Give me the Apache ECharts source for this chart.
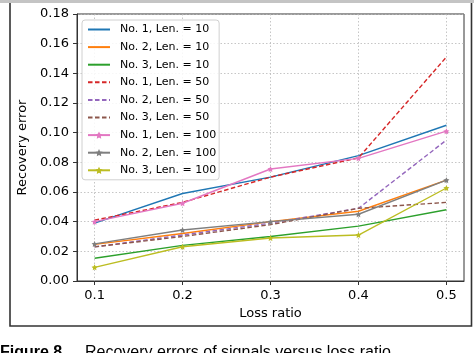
<!DOCTYPE html>
<html>
<head>
<meta charset="utf-8">
<script src="https://cdn.jsdelivr.net/npm/echarts@6/dist/echarts.min.js"></script>
<style>
  html, body { margin: 0; padding: 0; background: #fff; }
  #chart { width: 474px; height: 353px; }
</style>
</head>
<body>
<div id="chart"></div>
<script>
// loss ratios on the x axis
const lossRatios = [0.1, 0.2, 0.3, 0.4, 0.5];

// recovery error
const no1Len10 = [0.039, 0.059, 0.070, 0.0845, 0.105];
const no2Len10 = [0.0247, 0.032, 0.040, 0.047, 0.068];
const no3Len10 = [0.0153, 0.024, 0.030, 0.037, 0.048];
const no1Len50 = [0.041, 0.053, 0.070, 0.083, 0.151];
const no2Len50 = [0.023, 0.031, 0.039, 0.049, 0.095];
const no3Len50 = [0.023, 0.030, 0.038, 0.049, 0.053];
const no1Len100 = [0.040, 0.0524, 0.0755, 0.0827, 0.101];
const no2Len100 = [0.025, 0.0344, 0.040, 0.045, 0.068];
const no3Len100 = [0.0092, 0.0231, 0.029, 0.031, 0.0627];

const seriesDefs = [
    { name: 'No. 1, Len. = 10', data: no1Len10, color: '#1f77b4', type: 'solid', star: false },
    { name: 'No. 2, Len. = 10', data: no2Len10, color: '#ff7f0e', type: 'solid', star: false },
    { name: 'No. 3, Len. = 10', data: no3Len10, color: '#2ca02c', type: 'solid', star: false },
    { name: 'No. 1, Len. = 50', data: no1Len50, color: '#d62728', type: 'dashed', star: false },
    { name: 'No. 2, Len. = 50', data: no2Len50, color: '#9467bd', type: 'dashed', star: false },
    { name: 'No. 3, Len. = 50', data: no3Len50, color: '#8c564b', type: 'dashed', star: false },
    { name: 'No. 1, Len. = 100', data: no1Len100, color: '#e377c2', type: 'solid', star: true },
    { name: 'No. 2, Len. = 100', data: no2Len100, color: '#7f7f7f', type: 'solid', star: true },
    { name: 'No. 3, Len. = 100', data: no3Len100, color: '#bcbd22', type: 'solid', star: true }
];

const starPath = 'path://M0,-10L2.94,-4.05L9.51,-3.09L4.76,1.55L5.88,8.09L0,5L-5.88,8.09L-4.76,1.55L-9.51,-3.09L-2.94,-4.05Z';

var myChart = echarts.init(document.getElementById('chart'), null, { renderer: 'canvas' });

const font = 'DejaVu Sans';
const gridLine = { show: true, lineStyle: { color: '#b8b8b8', type: [1.5, 2], width: 0.8 } };

const option = {
    animation: false,
    backgroundColor: '#fff',
    textStyle: { fontFamily: font },
    grid: {
        left: 77, top: 14, width: 387, height: 267,
        show: true, borderColor: '#333', borderWidth: 1, backgroundColor: 'transparent'
    },
    legend: {
        orient: 'vertical',
        left: 82,
        top: 20,
        padding: [4, 3, 4, 5],
        itemWidth: 22,
        itemHeight: 9,
        itemGap: 6.6,
        backgroundColor: 'rgba(255,255,255,0.85)',
        borderColor: '#d0d0d0',
        borderWidth: 1,
        borderRadius: 3,
        textStyle: { fontFamily: font, fontSize: 11, color: '#000', padding: [0, 0, 0, 5] },
        // lines without markers get an invisible symbol in the legend
        data: seriesDefs.map(s => s.star
            ? { name: s.name }
            : { name: s.name, itemStyle: { opacity: 0 } })
    },
    xAxis: {
        type: 'value',
        min: 0.08,
        max: 0.52,
        name: 'Loss ratio',
        nameLocation: 'middle',
        nameGap: 25,
        nameTextStyle: { fontFamily: font, fontSize: 13, color: '#000' },
        axisLine: { show: true, lineStyle: { color: '#333', width: 1 } },
        axisTick: { show: true, length: 4, customValues: lossRatios, lineStyle: { color: '#333' } },
        axisLabel: {
            customValues: lossRatios, margin: 8,
            fontFamily: font, fontSize: 13, color: '#000',
            formatter: v => v.toFixed(1)
        },
        splitLine: gridLine
    },
    yAxis: {
        type: 'value',
        min: 0,
        max: 0.18,
        interval: 0.02,
        name: 'Recovery error',
        nameLocation: 'middle',
        nameGap: 44,
        nameTextStyle: { fontFamily: font, fontSize: 13, color: '#000' },
        axisLine: { show: true, lineStyle: { color: '#333', width: 1 } },
        axisTick: { show: true, length: 4, lineStyle: { color: '#333' } },
        axisLabel: {
            margin: 8, fontFamily: font, fontSize: 13, color: '#000',
            formatter: v => v.toFixed(2)
        },
        splitLine: gridLine
    },
    series: seriesDefs.map(s => ({
        name: s.name,
        type: 'line',
        data: lossRatios.map((x, i) => [x, s.data[i]]),
        color: s.color,
        symbol: s.star ? starPath : 'none',
        symbolSize: 6,
        showSymbol: s.star,
        lineStyle: { width: 1.4, type: s.type === 'dashed' ? [4.5, 2.5] : 'solid', color: s.color },
        itemStyle: { color: s.color },
        emphasis: { disabled: true }
    })),
    graphic: [
        {
            type: 'rect', silent: true,
            shape: { x: 10, y: 2, width: 461.5, height: 324 },
            style: { fill: 'none', stroke: '#333', lineWidth: 1.6 }
        },
        {
            type: 'line', silent: true,
            shape: { x1: 0, y1: 1.5, x2: 474, y2: 1.5 },
            style: { stroke: '#c4c4c4', lineWidth: 3 }
        },
        {
            type: 'text', silent: true, left: 0, top: 345,
            style: { text: 'Figure 8.', font: 'bold 16px "Liberation Sans"', fill: '#000' }
        },
        {
            type: 'text', silent: true, left: 85, top: 345,
            style: { text: 'Recovery errors of signals versus loss ratio.', font: '16px "Liberation Sans"', fill: '#000' }
        }
    ]
};

myChart.setOption(option);
</script>
</body>
</html>
